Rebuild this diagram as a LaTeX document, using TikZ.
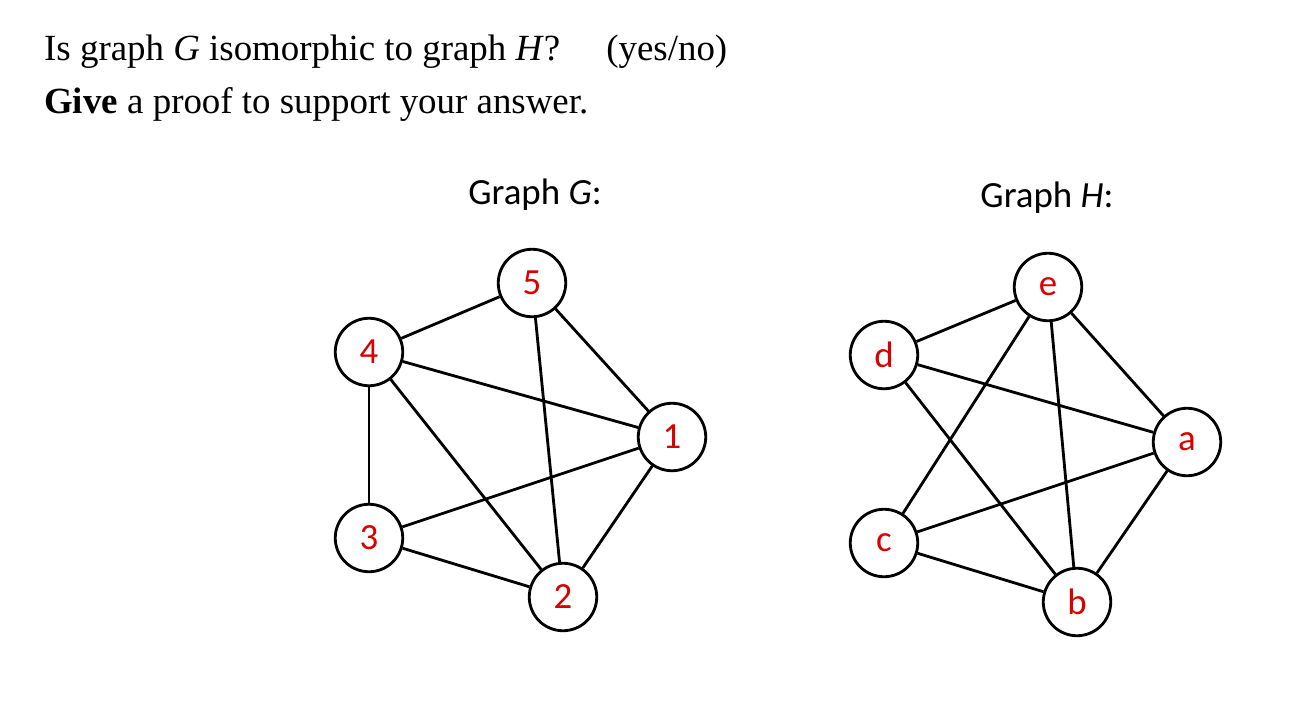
\documentclass[tikz,border=0pt]{standalone}
\usepackage{fontspec}
\setmainfont{Liberation Serif}
\newfontfamily\carlitofont{Carlito}
\begin{document}
\begin{tikzpicture}[x=0.02cm,y=-0.02cm,
  vtx/.style={circle,draw,line width=1.6pt,minimum size=1.35cm,inner sep=0pt,font=\carlitofont\fontsize{21}{21}\selectfont,text=red!85!black,fill=white},
  edge/.style={line width=1.6pt}]
\useasboundingbox (0,0) rectangle (1316,720);
\node[anchor=base west,font=\fontsize{21}{24}\selectfont] (t1) at (38,60) {Is graph \textit{G} isomorphic to graph \textit{H}?\quad\ (yes/no)};
\node[anchor=base west,font=\fontsize{21}{24}\selectfont] (t2) at (38,113) {\textbf{Give} a proof to support your answer.};
\node[font=\carlitofont\fontsize{21}{24}\selectfont] (lg) at (535,195) {Graph \textit{G}:};
\node[font=\carlitofont\fontsize{21}{24}\selectfont] (lh) at (1047,198) {Graph \textit{H}:};
\node[vtx] (g5) at (532,283) {5};
\node[vtx] (g4) at (369,352) {4};
\node[vtx] (g1) at (672,437) {1};
\node[vtx] (g3) at (369,538) {3};
\node[vtx] (g2) at (563,597) {2};
\node[vtx] (he) at (1048,287) {e};
\node[vtx] (hd) at (884,355) {d};
\node[vtx] (ha) at (1187,442) {a};
\node[vtx] (hc) at (884,543) {c};
\node[vtx] (hb) at (1077,602) {b};
\foreach \a/\b in {g4/g5,g5/g1,g4/g1,g5/g2,g4/g3,g4/g2,g3/g1,g3/g2,g2/g1,
  hd/he,he/ha,hd/ha,he/hc,he/hb,hd/hb,hc/ha,hc/hb,hb/ha}
  \draw[edge] (\a) -- (\b);
\end{tikzpicture}
\end{document}
